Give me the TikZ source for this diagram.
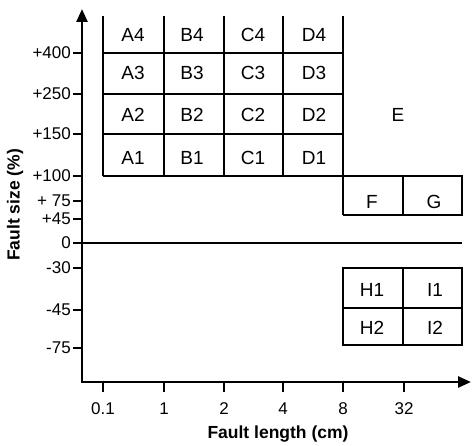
\documentclass[tikz,border=0pt]{standalone}
\usepackage{fontspec}
\setmainfont{Liberation Sans}
\usetikzlibrary{arrows.meta}
\begin{document}
\begin{tikzpicture}[x=1pt,y=-1pt,
  gridline/.style={line width=2.1pt},
  axisline/.style={line width=2.5pt},
  tickmark/.style={line width=2.6pt},
  lbl/.style={font=\fontsize{19}{22}\selectfont, inner sep=0pt},
  ticklbl/.style={font=\fontsize{17}{20}\selectfont, inner sep=0pt},
  title/.style={font=\fontsize{17.5}{20}\selectfont\bfseries, inner sep=0pt}]
\useasboundingbox (0,0) rectangle (474,446);
% axes
\coordinate (ytop) at (82,9);
\coordinate (orig) at (82,382);
\coordinate (xend) at (471,382);
\draw[axisline,{Triangle[length=13pt,width=11pt]}-{Triangle[length=13pt,width=11pt]}] (ytop) -- (orig) -- (xend);
% y ticks
\foreach \yy/\t/\n in {53/+400/a,94/+250/b,134/+150/c,176/+100/d,201/+\ 75/e,219/+45/f,243/0/g,268/-30/h,310/-45/i,348/-75/j}{
  \draw[tickmark] (73,\yy) -- (82,\yy);
  \node[ticklbl,anchor=east] (yl\n) at (71,\yy) {\t};
}
% x ticks
\foreach \xx/\t/\n in {103/0.1/a,164/1/b,224/2/c,283/4/d,343/8/e,404/32/f}{
  \draw[tickmark] (\xx,382) -- (\xx,392);
  \node[ticklbl] (xl\n) at (\xx,409) {\t};
}
\node[title] (xtitle) at (278,434) {Fault length (cm)};
\node[title,rotate=90] (ytitle) at (15,205) {Fault size (\%)};
% zero line
\draw[gridline] (82,243) -- (462,243);
% grid A-D
\foreach \xx in {103,164,224,283}{\draw[gridline] (\xx,16) -- (\xx,176);}
\draw[gridline] (343,16) -- (343,215);
\foreach \yy in {53,94,134}{\draw[gridline] (103,\yy) -- (343,\yy);}
\draw[gridline] (103,176) -- (462,176) -- (462,215) -- (343,215);
\draw[gridline] (403,176) -- (403,215);
% H I box
\draw[gridline] (343,268) rectangle (462,345);
\draw[gridline] (343,308) -- (462,308);
\draw[gridline] (403,268) -- (403,345);
% cell labels
\foreach \col/\xx in {A/133,B/192,C/253,D/314}{
  \foreach \row/\yy in {4/35,3/73,2/115,1/158}{
    \node[lbl] (\col\row) at (\xx,\yy) {\col\row};
  }
}
\node[lbl] (E) at (398,115) {E};
\node[lbl] (F) at (372,202) {F};
\node[lbl] (G) at (434,202) {G};
\node[lbl] (H1) at (372,290) {H1};
\node[lbl] (I1) at (435,290) {I1};
\node[lbl] (H2) at (372,328) {H2};
\node[lbl] (I2) at (435,328) {I2};
\end{tikzpicture}
\end{document}
